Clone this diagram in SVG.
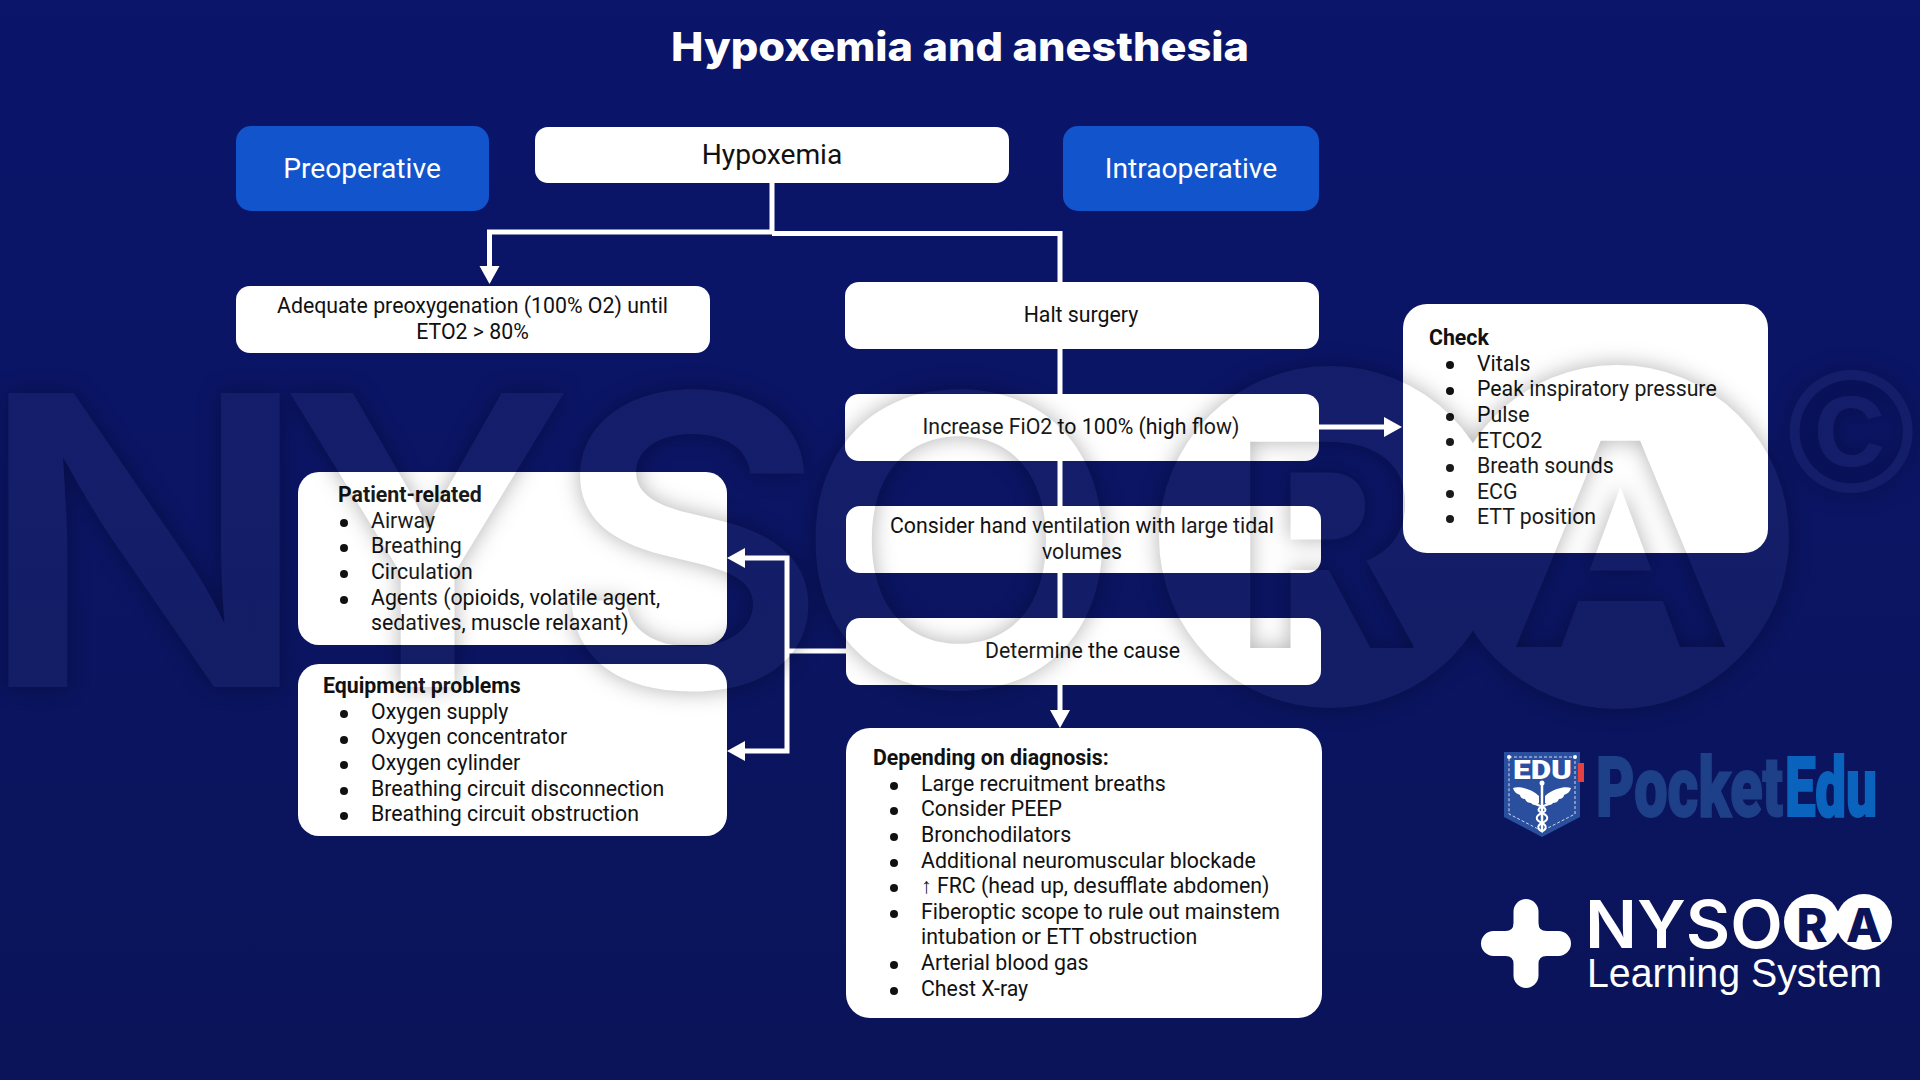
<svg xmlns="http://www.w3.org/2000/svg" width="1920" height="1080" viewBox="0 0 1920 1080">
<defs>
<style>
text{font-family:Roboto,"Liberation Sans",sans-serif}
.t{font-size:21.3px;fill:#111}
.c{text-anchor:middle}
.h{font-weight:700}
.box{fill:#fff}
.blue{fill:#1254cc}
.lbl{font-size:28.2px;fill:#fff;text-anchor:middle}
.b{fill:#111}
.ln{fill:none;stroke:#fff;stroke-width:5;marker-end:url(#ah)}
.lx{fill:none;stroke:#fff;stroke-width:5}
.wm{font-family:Inter,Roboto,sans-serif;font-weight:600;font-size:404px;fill:#fff}
</style>
<marker id="ah" markerUnits="userSpaceOnUse" markerWidth="18" markerHeight="22" refX="0" refY="11" orient="auto"><path d="M0 1L18 11L0 21z" fill="#fff"/></marker>
<linearGradient id="bg" x1="0" y1="0" x2="0" y2="1"><stop offset="0" stop-color="#0a156b"/><stop offset="1" stop-color="#0b1459"/></linearGradient>
<filter id="wmf" filterUnits="userSpaceOnUse" x="0" y="0" width="1920" height="1080" color-interpolation-filters="sRGB">
<feGaussianBlur in="SourceAlpha" stdDeviation="11" result="bl"/>
<feComposite in="bl" in2="SourceAlpha" operator="out" result="o"/>
<feFlood flood-color="#000" flood-opacity=".3"/><feComposite in2="o" operator="in" result="s"/>
<feFlood flood-color="#fff" flood-opacity=".04"/><feComposite in2="SourceAlpha" operator="in" result="f"/>
<feMerge><feMergeNode in="s"/><feMergeNode in="f"/></feMerge>
</filter>
<mask id="mR" maskUnits="userSpaceOnUse" x="0" y="0" width="1920" height="1080"><circle cx="1330" cy="537" r="171" fill="#fff"/><text x="1230" y="648" font-family="Inter,Roboto,sans-serif" font-weight="600" font-size="290" textLength="190" lengthAdjust="spacingAndGlyphs">R</text></mask>
<mask id="mA" maskUnits="userSpaceOnUse" x="0" y="0" width="1920" height="1080"><circle cx="1617" cy="537" r="172" fill="#fff"/><text x="1514" y="647" font-family="Inter,Roboto,sans-serif" font-weight="600" font-size="290" textLength="213" lengthAdjust="spacingAndGlyphs">A</text></mask>
</defs>
<rect width="1920" height="1080" fill="url(#bg)"/>
<text id="title" x="960" y="61" text-anchor="middle" style="font-family:Inter,sans-serif;font-weight:800;font-size:40px;fill:#fff" textLength="578" lengthAdjust="spacingAndGlyphs">Hypoxemia and anesthesia</text>
<g id="connectors">
<path class="ln" d="M772 183V232H489.500V266"/>
<path class="lx" d="M772 233.500H1060V282"/>
<path class="lx" d="M1060 349V394M1060 461V506M1060 573V618"/>
<path class="ln" d="M1060 685V710"/>
<path class="ln" d="M1319 427H1384"/>
<path class="lx" d="M846 651H787"/>
<path class="ln" d="M787 651V558H745"/>
<path class="ln" d="M787 651V751H745"/>
</g>
<g id="preoperative"><rect class="blue" x="236" y="126" width="253" height="85" rx="15"/><text class="lbl" x="362" y="178">Preoperative</text></g>
<g id="hypoxemia"><rect class="box" x="535" y="127" width="474" height="56" rx="13"/><text class="t c" style="font-size:28.2px" x="772" y="164">Hypoxemia</text></g>
<g id="intraoperative"><rect class="blue" x="1063" y="126" width="256" height="85" rx="15"/><text class="lbl" x="1191" y="178">Intraoperative</text></g>
<g id="preoxygenation"><rect class="box" x="236" y="286" width="474" height="67" rx="14"/><text class="t c" x="472.500" y="313">Adequate preoxygenation (100% O2) until</text><text class="t c" x="472.500" y="339">ETO2 &gt; 80%</text></g>
<g id="halt"><rect class="box" x="845" y="282" width="474" height="67" rx="14"/><text class="t c" x="1081" y="322">Halt surgery</text></g>
<g id="increase"><rect class="box" x="845" y="394" width="474" height="67" rx="14"/><text class="t c" x="1081" y="434">Increase FiO2 to 100% (high flow)</text></g>
<g id="consider"><rect class="box" x="846" y="506" width="475" height="67" rx="14"/><text class="t c" x="1082" y="533">Consider hand ventilation with large tidal</text><text class="t c" x="1082" y="559">volumes</text></g>
<g id="determine"><rect class="box" x="846" y="618" width="475" height="67" rx="14"/><text class="t c" x="1082.500" y="658">Determine the cause</text></g>
<g id="check"><rect class="box" x="1403" y="304" width="365" height="249" rx="24"/>
<text class="t h" x="1429" y="345">Check</text>
<circle class="b" cx="1450" cy="365" r="4"/><text class="t" x="1477" y="371">Vitals</text>
<circle class="b" cx="1450" cy="391" r="4"/><text class="t" x="1477" y="396">Peak inspiratory pressure</text>
<circle class="b" cx="1450" cy="417" r="4"/><text class="t" x="1477" y="422">Pulse</text>
<circle class="b" cx="1450" cy="442" r="4"/><text class="t" x="1477" y="448">ETCO2</text>
<circle class="b" cx="1450" cy="468" r="4"/><text class="t" x="1477" y="473">Breath sounds</text>
<circle class="b" cx="1450" cy="494" r="4"/><text class="t" x="1477" y="499">ECG</text>
<circle class="b" cx="1450" cy="519" r="4"/><text class="t" x="1477" y="524">ETT position</text>
</g>
<g id="patient"><rect class="box" x="298" y="472" width="429" height="173" rx="21"/>
<text class="t h" x="338" y="502">Patient-related</text>
<circle class="b" cx="344" cy="523" r="4"/><text class="t" x="371" y="528">Airway</text>
<circle class="b" cx="344" cy="548" r="4"/><text class="t" x="371" y="553">Breathing</text>
<circle class="b" cx="344" cy="574" r="4"/><text class="t" x="371" y="579">Circulation</text>
<circle class="b" cx="344" cy="600" r="4"/><text class="t" x="371" y="605">Agents (opioids, volatile agent,</text>
<text class="t" x="371" y="630">sedatives, muscle relaxant)</text>
</g>
<g id="equipment"><rect class="box" x="298" y="664" width="429" height="172" rx="21"/>
<text class="t h" x="323" y="693">Equipment problems</text>
<circle class="b" cx="344" cy="714" r="4"/><text class="t" x="371" y="719">Oxygen supply</text>
<circle class="b" cx="344" cy="740" r="4"/><text class="t" x="371" y="744">Oxygen concentrator</text>
<circle class="b" cx="344" cy="765" r="4"/><text class="t" x="371" y="770">Oxygen cylinder</text>
<circle class="b" cx="344" cy="791" r="4"/><text class="t" x="371" y="796">Breathing circuit disconnection</text>
<circle class="b" cx="344" cy="816" r="4"/><text class="t" x="371" y="821">Breathing circuit obstruction</text>
</g>
<g id="diagnosis"><rect class="box" x="846" y="728" width="476" height="290" rx="24"/>
<text class="t h" x="873" y="765">Depending on diagnosis:</text>
<circle class="b" cx="894" cy="786" r="4"/><text class="t" x="921" y="791">Large recruitment breaths</text>
<circle class="b" cx="894" cy="811" r="4"/><text class="t" x="921" y="816">Consider PEEP</text>
<circle class="b" cx="894" cy="837" r="4"/><text class="t" x="921" y="842">Bronchodilators</text>
<circle class="b" cx="894" cy="863" r="4"/><text class="t" x="921" y="868">Additional neuromuscular blockade</text>
<circle class="b" cx="894" cy="888" r="4"/><text class="t" x="921" y="893">↑ FRC (head up, desufflate abdomen)</text>
<circle class="b" cx="894" cy="914" r="4"/><text class="t" x="921" y="919">Fiberoptic scope to rule out mainstem</text>
<text class="t" x="921" y="944">intubation or ETT obstruction</text>
<circle class="b" cx="894" cy="965" r="4"/><text class="t" x="921" y="970">Arterial blood gas</text>
<circle class="b" cx="894" cy="991" r="4"/><text class="t" x="921" y="996">Chest X-ray</text>
</g>
<g id="watermark" filter="url(#wmf)">
<text class="wm" x="-24" y="687" textLength="336" lengthAdjust="spacingAndGlyphs">N</text>
<text class="wm" x="280" y="687" textLength="294" lengthAdjust="spacingAndGlyphs">Y</text>
<text class="wm" x="552" y="687" textLength="276" lengthAdjust="spacingAndGlyphs">S</text>
<text class="wm" x="794" y="687" textLength="330" lengthAdjust="spacingAndGlyphs">O</text>
<g mask="url(#mR)"><rect x="1150" y="360" width="360" height="360" fill="#fff"/></g>
<g mask="url(#mA)"><rect x="1440" y="360" width="360" height="360" fill="#fff"/></g>
<text x="1787" y="492" style="font-family:'Liberation Sans',sans-serif;font-weight:700;font-size:174px;fill:#fff">©</text>
</g>
<g id="pocketedu">
<path d="M1504 752H1580V817L1542 837L1504 817z" fill="#2a4f9f"/>
<path d="M1509 757H1575V814L1542 831L1509 814z" fill="none" stroke="#cfd9ee" stroke-width="1" stroke-dasharray="3 2"/>
<circle cx="1509" cy="757" r="2" fill="#fff"/><circle cx="1575" cy="757" r="2" fill="#fff"/>
<rect x="1578" y="763" width="6" height="19" fill="#e5413f"/>
<text x="1513" y="779" textLength="59" lengthAdjust="spacingAndGlyphs" style="font-weight:900;font-size:25px;fill:#fff">EDU</text>
<path d="M1542 783V832" stroke="#fff" stroke-width="2.500"/>
<circle cx="1542" cy="783" r="2.500" fill="#fff"/>
<path d="M1539 796C1530 788 1518 786 1513 788C1514 792 1517 794 1520 795C1520 797 1522 799 1525 799C1526 802 1529 803 1531 803C1533 806 1537 805 1539 803z" fill="#fff"/>
<path d="M1545 796C1554 788 1566 786 1571 788C1570 792 1567 794 1564 795C1564 797 1562 799 1559 799C1558 802 1555 803 1553 803C1551 806 1547 805 1545 803z" fill="#fff"/>
<path d="M1549 804C1539 807 1535 810 1542 813C1549 816 1549 820 1542 823C1536 826 1538 830 1543 832M1535 804C1545 807 1549 810 1542 813C1535 816 1535 820 1542 823C1548 826 1546 830 1541 832" fill="none" stroke="#fff" stroke-width="2"/>
<text x="1596" y="816" textLength="187" lengthAdjust="spacingAndGlyphs" style="font-weight:900;font-size:84px;fill:#1d4088;stroke:#1d4088;stroke-width:2">Pocket</text>
<text x="1785" y="816" textLength="92" lengthAdjust="spacingAndGlyphs" style="font-weight:900;font-size:84px;fill:#0a63bd;stroke:#0a63bd;stroke-width:2">Edu</text>
</g>
<g id="nysora-logo">
<path fill="#fff" d="M1526 899a12.500 12.500 0 0 1 12.500 12.500V923q0 8 8 8H1558.500a12.500 12.500 0 0 1 0 25H1546.500q-8 0-8 8V975.500a12.500 12.500 0 0 1-25 0V964q0-8-8-8H1493.500a12.500 12.500 0 0 1 0-25H1505.500q8 0 8-8V911.500A12.500 12.500 0 0 1 1526 899z"/>
<text x="1585" y="948" textLength="198" lengthAdjust="spacingAndGlyphs" style="font-family:Inter,sans-serif;font-weight:600;font-size:66px;fill:#fff">NYSO</text>
<circle cx="1812" cy="922" r="28" fill="#fff"/><circle cx="1864" cy="922" r="28" fill="#fff"/>
<text x="1812" y="942" text-anchor="middle" style="font-family:Inter,sans-serif;font-weight:800;font-size:47px;fill:#0b1459">R</text>
<text x="1864" y="942" text-anchor="middle" style="font-family:Inter,sans-serif;font-weight:800;font-size:47px;fill:#0b1459">A</text>
<text x="1587" y="987" textLength="295" lengthAdjust="spacingAndGlyphs" style="font-family:'Liberation Sans',sans-serif;font-size:40px;fill:#fff">Learning System</text>
</g>
</svg>
